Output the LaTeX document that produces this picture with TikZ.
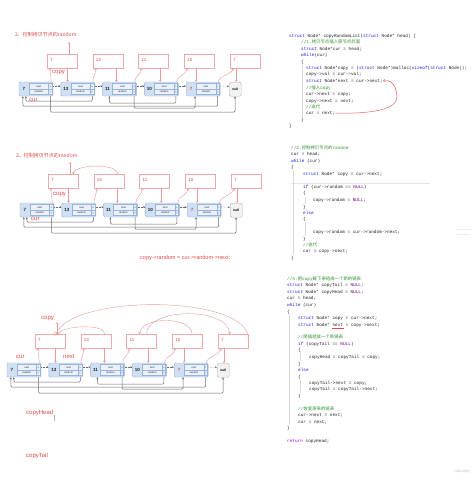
\documentclass[tikz,border=0pt]{standalone}
\usepackage{fontspec}
\setmainfont{Liberation Sans}
\setmonofont{Liberation Mono}
\newfontfamily\cjk{Noto Sans CJK SC}
\usetikzlibrary{calc,arrows.meta}
\definecolor{nodefill}{HTML}{CFDFF4}
\definecolor{nodedraw}{HTML}{9AB3D8}
\definecolor{fieldfill}{HTML}{EAF1FB}
\definecolor{redc}{HTML}{E04A4A}
\definecolor{redl}{HTML}{E69A9A}
\definecolor{redb}{HTML}{EAAAAA}
\definecolor{linec}{HTML}{6A6A6A}
\definecolor{kwblue}{HTML}{1A1AE6}
\definecolor{cmgreen}{HTML}{2F8F2F}
\definecolor{nullc}{HTML}{6F008A}
\definecolor{retc}{HTML}{AF00DB}
\definecolor{codec}{HTML}{222222}
\tikzset{
  orig/.style={draw=nodedraw, fill=nodefill, rounded corners=1.2pt, minimum width=34pt, minimum height=14pt, inner sep=0pt, line width=0.4pt},
  fieldbox/.style={draw=nodedraw, fill=fieldfill, line width=0.3pt},
  fieldsep/.style={draw=nodedraw, line width=0.3pt},
  fieldtxt/.style={font=\fontsize{2.5}{2.7}\selectfont, text=codec, inner sep=0pt},
  valtxt/.style={font=\fontsize{4.5}{5}\selectfont\bfseries, inner sep=0pt},
  port/.style={draw=nodedraw, fill=white, line width=0.25pt},
  nullbox/.style={draw=gray!60, fill=gray!10, rounded corners=1.5pt, minimum width=12pt, minimum height=14pt, inner sep=0pt, font=\fontsize{3.3}{3.5}\selectfont\bfseries},
  copybox/.style={draw=redb, fill=white, line width=0.45pt, minimum width=30pt, minimum height=14pt, inner sep=0pt},
  boxlbl/.style={text=redc, font=\fontsize{4.5}{5}\selectfont, inner sep=0pt, anchor=west},
  rnd/.style={draw=linec, line width=0.5pt, rounded corners=1.2pt, -{Stealth[length=2.2pt,width=2pt]}},
  nxt/.style={draw=linec, line width=0.45pt, densely dotted, -{Stealth[length=2pt,width=1.8pt]}},
  redarr/.style={draw=redl, line width=0.4pt, -{Straight Barb[length=1.6pt,width=2.4pt]}},
  lbl/.style={text=redc, inner sep=0pt, anchor=west, font=\fontsize{6}{7}\selectfont},
  code/.style={anchor=west, inner sep=0pt, font=\ttfamily\fontsize{4.4}{5}\selectfont, text=codec},
  guide/.style={draw=gray!30, line width=0.25pt}
}
\newcommand{\kw}[1]{\textcolor{kwblue}{#1}}
\newcommand{\cm}[1]{\textcolor{cmgreen}{#1}}
\newcommand{\cNULL}{\textcolor{nullc}{NULL}}
\newcommand{\orignode}[5]{%
  \node[orig] (#1) at ({#2+17},{#3+7}) {};
  \draw[fieldbox] ({#2+10},{#3+1.6}) rectangle ({#2+33},{#3+12.4});
  \draw[fieldsep] ({#2+10},{#3+7}) -- ({#2+33},{#3+7});
  \draw[fieldsep] ({#2+29.6},{#3+1.6}) -- ({#2+29.6},{#3+12.4});
  \node[fieldtxt] (#1-nx) at ({#2+19.8},{#3+4.3}) {next};
  \node[fieldtxt] (#1-rd) at ({#2+19.8},{#3+9.7}) {random};
  \draw[port] ({#2+31.3},{#3+4.3}) circle (0.75pt);
  \draw[port] ({#2+31.3},{#3+9.7}) circle (0.75pt);
  \node[valtxt, text=#5] (#1-v) at ({#2+5},{#3+7}) {#4};
}
% #1 prefix, #2 x0, #3 y0, #4 first copy box x, #5 copy box y
\newcommand{\drawlist}[5]{%
  \foreach \ii/\val/\vcol in {1/7/codec,2/13/codec,3/11/codec,4/10/codec,5/7/redc}{%
    \pgfmathsetmacro{\nx}{#2+41.8*(\ii-1)}
    \orignode{#1n\ii}{\nx}{#3}{\val}{\vcol}
    \pgfmathsetmacro{\bxx}{#4+45.7*(\ii-1)}
    \node[copybox, anchor=north west] (#1b\ii) at (\bxx,#5) {};
    \node[boxlbl] (#1bl\ii) at ($(#1b\ii.north west)+(3,6)$) {\val};
  }
  \node[nullbox, anchor=north west] (#1nn) at ({#2+210},#3) {null};
  % next pointers
  \foreach \ii/\jj in {1/2,2/3,3/4,4/5}{%
    \draw[nxt] ($(#1n\ii.north east)+(0,4.3)$) -- ($(#1n\jj.north west)+(0,4.3)$);
  }
  \draw[nxt] ($(#1n5.north east)+(0,4.3)$) -- ($(#1nn.north west)+(0,4.3)$);
  % random pointers
  \draw[rnd] ($(#1n2.south east)+(-2.7,0)$) -- ++(0,5) -| ($(#1n1.south west)+(7,0)$);
  \draw[rnd] ($(#1n4.south east)+(-2.7,0)$) -- ++(0,7) -| ($(#1n3.south west)+(7,0)$);
  \draw[rnd] ($(#1n5.south east)+(-2.7,0)$) -- ++(0,10) -| ($(#1n1.south west)+(4,0)$);
  \draw[rnd] ($(#1n3.south east)+(-2.7,0)$) -- ++(0,12) -| ($(#1n5.south west)+(9,0)$);
  \draw[rnd] ($(#1n1.south east)+(-2.7,0)$) -- ++(0,16) -| ($(#1nn.south west)+(6,0)$);
  % original -> copy
  \foreach \ii in {1,...,5}{%
    \draw[redarr] ($(#1n\ii.north east)+(-2,0)$) .. controls +(0,-6) and +(0,6) .. ($(#1b\ii.south west)+(3,0)$);
  }
  % copy -> next original
  \foreach \ii/\tt/\oo in {1/n2/7,2/n3/14,3/n4/16,4/n5/10,5/nn/7}{%
    \coordinate (#1d\ii) at ($(#1\tt.north west)+(\oo,0)$);
    \draw[redarr] (#1d\ii |- #1b\ii.south) -- (#1d\ii);
  }
  % copy1 random -> NULL
  \coordinate (#1u) at ($(#1b1.north west)+(22,-12)$);
  \draw[redarr] (#1u |- #1b1.north) -- (#1u);
}
\begin{document}
\begin{tikzpicture}[x=1pt,y=-1pt]
\fill[white] (0,0) rectangle (474,477);
\useasboundingbox (0,0) rectangle (474,477);

% ---------- section 1 ----------
\node[lbl, font=\cjk\fontsize{5}{6}\selectfont] (t1) at (15,35) {2、控制拷贝节点的random};
\drawlist{a}{19}{82}{47}{54}
\node[lbl] (acopy) at (52,73) {copy};
\node[lbl] (acur) at (29,100) {cur};

% ---------- section 2 ----------
\node[lbl, font=\cjk\fontsize{5}{6}\selectfont] (t2) at (16,156) {2、控制拷贝节点的random};
\drawlist{b}{20}{203}{48}{174}
\draw[redarr] ($(bb2.north west)+(24,0)$) .. controls +(0,-11) and +(2,-10) .. ($(bb1.north west)+(25,0)$);
\node[lbl] (bcopy) at (53,195) {copy};
\node[lbl] (bcur) at (31,219) {cur};
\node[lbl, font=\fontsize{5.5}{6}\selectfont] (bform) at (140,258) {copy->random = cur->random->next;};

% ---------- section 3 ----------
\drawlist{c}{7}{363}{35}{334}
\draw[redl, line width=0.3pt] ($(cb1.north west)+(20,0)$) ellipse (2.2pt and 1.3pt);
\draw[redarr] ($(cb2.north west)+(24,0)$) .. controls +(0,-11) and +(4,-8) .. ($(cb1.north west)+(23,0)$);
\draw[redarr] ($(cb5.north east)+(0,6)$) .. controls +(4,-45) and +(18,-41) .. ($(cb1.north west)+(21,0)$);
\draw[redarr] ($(cb3.north west)+(20,0)$) .. controls +(2,-27) and +(-2,-27) .. ($(cb5.north west)+(12,0)$);
\draw[redarr] ($(cb4.north west)+(20,0)$) .. controls +(-1,-18) and +(2,-18) .. ($(cb3.north west)+(13,0)$);
\node[lbl] (ccopy) at (41,319) {copy};
\node[lbl] (ccur) at (16,357) {cur};
\node[lbl] (cnext) at (63,357) {next};
\node[lbl] (chead) at (26,413) {copyHead};
\node[lbl] (ctail) at (26,456) {copyTail};
\draw[gray!60, line width=0.3pt] (54.5,415) -- (54.5,421);

% ---------- code block 1 ----------
\draw[guide] (302.5,65) -- (302.5,117);
\node[code] (k1) at (289,36) {\kw{struct} Node* copyRandomList(\kw{struct} Node* head) \{};
\node[code] (k2) at (301,42) {\cm{//1.{\cjk 拷贝节点插入原节点后面}}};
\node[code] (k3) at (301,49) {\kw{struct} Node*cur = head;};
\node[code] (k4) at (301,55) {\kw{while}(cur)};
\node[code] (k5) at (301,62) {\{};
\node[code] (k6) at (306,68) {\kw{struct} Node*copy = (\kw{struct} Node*)malloc(\kw{sizeof}(\kw{struct} Node));};
\node[code] (k7) at (306,74) {copy->val = cur->val;};
\node[code] (k8) at (306,81) {\kw{struct} Node*next = cur->next;};
\node[code] (k9) at (306,88) {\cm{//{\cjk 插入}copy}};
\node[code] (k10) at (306,94) {cur->next = copy;};
\node[code] (k11) at (306,101) {copy->next = next;};
\node[code] (k12) at (306,107) {\cm{//{\cjk 迭代}}};
\node[code] (k13) at (306,113) {cur = next;};
\node[code] (k14) at (301,120) {\}};
\node[code] (k15) at (289,126) {\}};
\draw[redarr, draw=redc!85, line width=0.5pt] (k13.east) .. controls (370,114) and (398,110) .. (397,96) .. controls (396,84) and (390,79) .. (k8.east);

% ---------- code block 2 ----------
\draw[gray!20, line width=0.3pt] (291,183.5) -- (430,183.5);
\draw[guide] (293,170) -- (293,255);
\draw[guide] (305,196) -- (305,204);
\draw[guide] (305,222) -- (305,236);
\draw[gray!15, line width=0.6pt] (457,229) -- (472,229);
\draw[gray!15, line width=0.6pt] (457,234) -- (470,234);
\node[code] (m1) at (291,148) {\cm{//2.{\cjk 控制拷贝节点的}random}};
\node[code] (m2) at (291,154) {cur = head;};
\node[code] (m3) at (291,161) {\kw{while} (cur)};
\node[code] (m4) at (291,167) {\{};
\node[code] (m5) at (303,174) {\kw{struct} Node* copy = cur->next;};
\node[code] (m6) at (303,187) {\kw{if} (cur->random == \cNULL)};
\node[code] (m7) at (303,193) {\{};
\node[code] (m8) at (313,200) {copy->random = \cNULL;};
\node[code] (m9) at (303,207) {\}};
\node[code] (m10) at (303,213) {\kw{else}};
\node[code] (m11) at (303,219) {\{};
\node[code] (m12) at (313,232) {copy->random = cur->random->next;};
\node[code] (m13) at (303,239) {\}};
\node[code] (m14) at (303,245) {\cm{//{\cjk 迭代}}};
\node[code] (m15) at (303,251) {cur = copy->next;};
\node[code] (m16) at (291,258) {\}};

% ---------- code block 3 ----------
\draw[guide] (289,315) -- (289,425);
\draw[guide] (300,353) -- (300,361);
\draw[guide] (300,380) -- (300,393);
\node[code] (p1) at (287,279) {\cm{//3.{\cjk 把}copy{\cjk 解下来组成一个新的链表}}};
\node[code] (p2) at (287,285) {\kw{struct} Node* copyTail = \cNULL;};
\node[code] (p3) at (287,292) {\kw{struct} Node* copyHead = \cNULL;};
\node[code] (p4) at (287,298) {cur = head;};
\node[code] (p5) at (287,305) {\kw{while} (cur)};
\node[code] (p6) at (287,312) {\{};
\node[code] (p7) at (298,318) {\kw{struct} Node* copy = cur->next;};
\node[code] (p8) at (298,325) {\kw{struct} Node* next = copy->next;};
\draw[redc, line width=0.5pt] (331.5,328.6) -- (343.8,328.6);
\node[code] (p9) at (298,337) {\cm{//{\cjk 尾插组成一个新链表}}};
\node[code] (p10) at (298,344) {\kw{if} (copyTail == \cNULL)};
\node[code] (p11) at (298,350) {\{};
\node[code] (p12) at (309,357) {copyHead = copyTail = copy;};
\node[code] (p13) at (298,364) {\}};
\node[code] (p14) at (298,370) {\kw{else}};
\node[code] (p15) at (298,377) {\{};
\node[code] (p16) at (309,383) {copyTail->next = copy;};
\node[code] (p17) at (309,389) {copyTail = copyTail->next;};
\node[code] (p18) at (298,396) {\}};
\node[code] (p19) at (298,409) {\cm{//{\cjk 恢复原来的链表}}};
\node[code] (p20) at (298,415) {cur->next = next;};
\node[code] (p21) at (298,422) {cur = next;};
\node[code] (p22) at (287,428) {\}};
\node[code] (p23) at (287,441) {\textcolor{retc}{return} copyHead;};

\node[anchor=east, inner sep=0pt, text=gray!55, font=\cjk\fontsize{2.8}{3}\selectfont] (wm) at (470,472) {CSDN @博主};
\end{tikzpicture}
\end{document}
